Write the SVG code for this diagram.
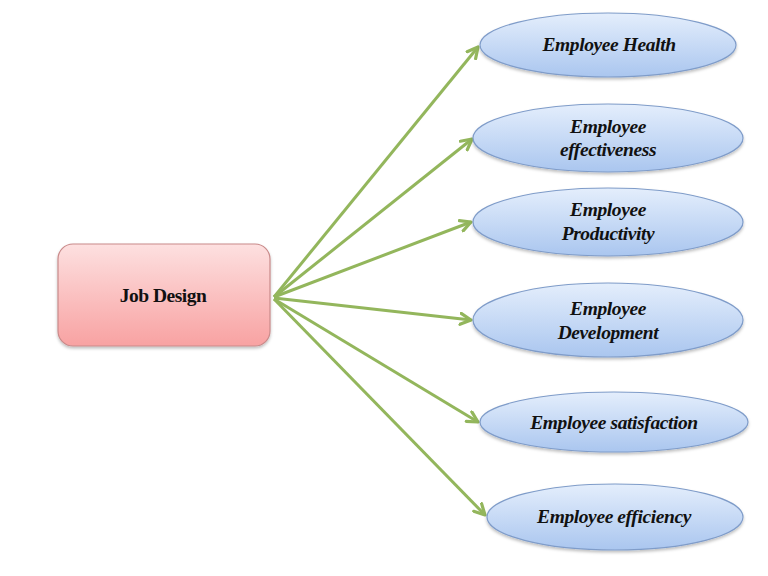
<svg xmlns="http://www.w3.org/2000/svg" width="768" height="576" viewBox="0 0 768 576">
<defs>
<linearGradient id="pink" x1="0" y1="0" x2="0" y2="1">
<stop offset="0" stop-color="#fde0e0"/>
<stop offset="1" stop-color="#f8a2a2"/>
</linearGradient>
<linearGradient id="blue" x1="0" y1="0" x2="0" y2="1">
<stop offset="0" stop-color="#e4eefc"/>
<stop offset="1" stop-color="#aac6ef"/>
</linearGradient>
<filter id="sh" x="-10%" y="-10%" width="120%" height="130%">
<feDropShadow dx="0" dy="2" stdDeviation="1.5" flood-color="#000" flood-opacity="0.25"/>
</filter>
<marker id="ah" viewBox="0 0 14 14" refX="12" refY="7" markerWidth="14" markerHeight="14" markerUnits="userSpaceOnUse" orient="auto">
<path d="M1.5,1.5 L12,7 L1.5,12.5" fill="none" stroke="#93b65c" stroke-width="3.2" stroke-linecap="round" stroke-linejoin="round"/>
</marker>
</defs>
<style>
.ell{fill:url(#blue);stroke:#7f9cc9;stroke-width:1.2;filter:url(#sh)}
.lbl{font-family:"Liberation Serif","Times New Roman",serif;font-weight:bold;font-style:italic;font-size:19.5px;fill:#111;text-anchor:middle;letter-spacing:-0.4px}
.con{stroke:#93b65c;stroke-width:3;fill:none;marker-end:url(#ah)}
</style>
<rect width="768" height="576" fill="#fff"/>
<g id="connectors">
<line class="con" x1="274" y1="297" x2="478" y2="47"/>
<line class="con" x1="274" y1="297" x2="472" y2="139"/>
<line class="con" x1="274" y1="297" x2="471" y2="222"/>
<line class="con" x1="274" y1="298" x2="471" y2="320"/>
<line class="con" x1="274" y1="299" x2="478" y2="422"/>
<line class="con" x1="274" y1="299" x2="485" y2="515"/>
</g>
<g id="job-design">
<rect x="58" y="244" width="212" height="102" rx="15" fill="url(#pink)" stroke="#c98a8a" stroke-width="1.2" filter="url(#sh)"/>
<text x="163" y="302" font-family="'Liberation Serif','Times New Roman',serif" font-weight="bold" font-size="19.5" text-anchor="middle" fill="#111" letter-spacing="-0.5">Job Design</text>
</g>
<g id="health">
<ellipse class="ell" cx="608" cy="45" rx="128" ry="32"/>
<text class="lbl" x="609" y="51">Employee Health</text>
</g>
<g id="effectiveness">
<ellipse class="ell" cx="608" cy="138" rx="135" ry="34"/>
<text class="lbl" x="608" y="133">Employee</text>
<text class="lbl" x="608" y="156">effectiveness</text>
</g>
<g id="productivity">
<ellipse class="ell" cx="608" cy="222" rx="135" ry="34"/>
<text class="lbl" x="608" y="216">Employee</text>
<text class="lbl" x="608" y="240">Productivity</text>
</g>
<g id="development">
<ellipse class="ell" cx="608" cy="320" rx="135" ry="37"/>
<text class="lbl" x="608" y="315">Employee</text>
<text class="lbl" x="608" y="339">Development</text>
</g>
<g id="satisfaction">
<ellipse class="ell" cx="614" cy="422" rx="134" ry="30"/>
<text class="lbl" x="614" y="429">Employee satisfaction</text>
</g>
<g id="efficiency">
<ellipse class="ell" cx="615" cy="517" rx="128" ry="33"/>
<text class="lbl" x="614" y="523">Employee efficiency</text>
</g>
</svg>
